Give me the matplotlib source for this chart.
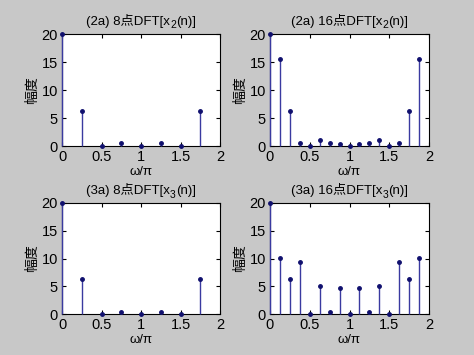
import matplotlib
matplotlib.use("Agg")
import matplotlib.pyplot as plt
import numpy as np

plt.rcParams['font.family'] = ['Liberation Sans', 'Noto Sans CJK SC', 'DejaVu Sans']

w8 = [0, 0.25, 0.5, 0.75, 1.0, 1.25, 1.5, 1.75]
w16 = [0, 0.125, 0.25, 0.375, 0.5, 0.625, 0.75, 0.875,
       1.0, 1.125, 1.25, 1.375, 1.5, 1.625, 1.75, 1.875]

x2_8 = [20, 6.31, 0, 0.45, 0, 0.45, 0, 6.31]
x2_16 = [20, 15.45, 6.31, 0.45, 0, 1.0, 0.45, 0.41,
         0, 0.41, 0.45, 1.0, 0, 0.45, 6.31, 15.45]
x3_8 = [20, 6.31, 0, 0.45, 0, 0.45, 0, 6.31]
x3_16 = [20, 10.18, 6.31, 9.45, 0, 5.01, 0.45, 4.69,
         0, 4.69, 0.45, 5.01, 0, 9.45, 6.31, 10.18]

# title pieces: (main text, subscript, tail)
titles = [('(2a) 8点DFT[x', '2', '(n)]'), ('(2a) 16点DFT[x', '2', '(n)]'),
          ('(3a) 8点DFT[x', '3', '(n)]'), ('(3a) 16点DFT[x', '3', '(n)]')]
xticks = [0, 0.5, 1, 1.5, 2]
xticklabels = ['0', '0.5', '1', '1.5', '2']
yticks = [0, 5, 10, 15, 20]
ylab = '幅度'
xlab = 'ω/π'

W, H = 474, 355
fig = plt.figure(figsize=(W / 100, H / 100), dpi=100, facecolor='#c8c8c8')
renderer = fig.canvas.get_renderer()

boxes = [(62, 34, 220, 146), (270, 34, 429, 146),
         (62, 203, 220, 314), (270, 203, 429, 314)]
series = [(w8, x2_8), (w16, x2_16), (w8, x3_8), (w16, x3_16)]


def piece_title(cx, base_y, parts):
    # parts: list of (text, fontsize, dy_px)
    objs = []
    widths = []
    for s, fs, dy in parts:
        t = fig.text(0, 0, s, fontsize=fs, va='baseline', ha='left')
        widths.append(t.get_window_extent(renderer).width)
        objs.append((t, dy))
    x = cx - sum(widths) / 2
    for (t, dy), wd in zip(objs, widths):
        t.set_position((x / W, 1 - (base_y + dy) / H))
        x += wd


for (l, t, r, b), (xs, ys), title in zip(boxes, series, titles):
    ax = fig.add_axes([l / W, 1 - b / H, (r - l) / W, (b - t) / H])
    ax.set_facecolor('white')
    ml, sl, bl = ax.stem(xs, ys, basefmt=' ')
    plt.setp(sl, color='#3a3aa0', linewidth=1.0, clip_on=False, zorder=3)
    plt.setp(ml, color='#10106e', marker='o', markersize=2.5, clip_on=False, zorder=4)
    ax.set_xlim(0, 2)
    ax.set_ylim(0, 20)
    ax.set_xticks(xticks)
    ax.set_xticklabels(xticklabels)
    ax.set_yticks(yticks)
    ax.tick_params(direction='in', top=True, right=True, length=3,
                   labelsize=10.5, pad=3, color='black')
    for s in ax.spines.values():
        s.set_linewidth(0.8)
        s.set_zorder(2)
    ax.set_xlabel(xlab, fontsize=9.5, labelpad=1)
    ax.set_ylabel(ylab, fontsize=10, labelpad=2)
    main, sub, tail = title
    piece_title((l + r) / 2, t - 9, [(main, 9.5, 0), (sub, 7.5, 3.5), (tail, 9.5, 0)])

fig.savefig('out.png', dpi=100, facecolor=fig.get_facecolor())
